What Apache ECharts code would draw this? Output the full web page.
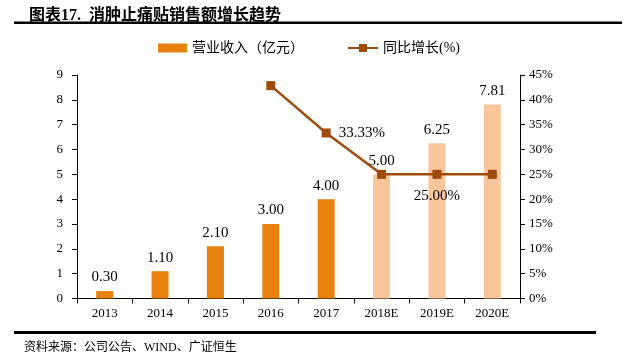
<!DOCTYPE html>
<html><head><meta charset="utf-8">
<script src="https://cdn.jsdelivr.net/npm/echarts@6/dist/echarts.min.js"></script>
<style>html,body{margin:0;padding:0;background:#fff}#c{width:640px;height:355px}</style>
</head><body><div id="c"></div>
<script>
const categories = ['2013','2014','2015','2016','2017','2018E','2019E','2020E'];
const revenue = [0.30, 1.10, 2.10, 3.00, 4.00, 5.00, 6.25, 7.81];
const growth = [null, null, null, 42.86, 33.33, 25.00, 25.00, 25.00];
const growthLabelShown = [false, false, false, false, true, false, true, false];
const leftTicks = [0,1,2,3,4,5,6,7,8,9];
const rightTicks = [0,5,10,15,20,25,30,35,40,45];
const titleText = '图表17.  消肿止痛贴销售额增长趋势';
const sourceText = '资料来源：公司公告、WIND、广证恒生';
const seriesNames = ['营业收入（亿元）', '同比增长(%)'];

const SERIF = '"Liberation Serif","Times New Roman",serif';
const MIX = '"Liberation Serif","Noto Sans CJK SC",serif';
const DARK = '#E8820E', LIGHT = '#F9C59B', LINE = '#9E4B0C';

const chart = echarts.init(document.getElementById('c'), null, {renderer:'canvas'});
chart.setOption({
  animation:false,
  textStyle:{fontFamily:SERIF},
  title:{text:titleText,left:24,top:3,textStyle:{fontFamily:MIX,fontSize:16,fontWeight:'bold',color:'#000'}},
  graphic:[
    {type:'rect',shape:{x:14,y:21.5,width:608,height:2.5},style:{fill:'#000'}},
    {type:'rect',shape:{x:14,y:331,width:582,height:3},style:{fill:'#000'}},
    {type:'text',left:24,top:342,style:{text:sourceText,font:'12px "Liberation Serif","Noto Sans CJK SC",serif',fill:'#000'}}
  ],
  legend:[
    {data:[{name:seriesNames[0],icon:'rect'}],left:153,top:36,itemWidth:29,itemHeight:9,itemGap:4,
     textStyle:{fontFamily:MIX,fontSize:14,color:'#000'}},
    {data:[{name:seriesNames[1]}],left:342,top:36,itemWidth:30,itemHeight:10,itemGap:4,
     textStyle:{fontFamily:MIX,fontSize:14,color:'#000'}}
  ],
  grid:{left:77,right:120,top:75,bottom:56.5},
  xAxis:{type:'category',data:categories,
    axisLine:{lineStyle:{color:'#000',width:1}},
    axisTick:{show:true,length:5,lineStyle:{color:'#000'}},
    axisLabel:{color:'#000',fontSize:13,fontFamily:SERIF,margin:9}},
  yAxis:[
    {type:'value',min:leftTicks[0],max:leftTicks[leftTicks.length-1],interval:1,
     axisLine:{show:true,lineStyle:{color:'#000'}},axisTick:{show:true,length:5,lineStyle:{color:'#000'}},
     splitLine:{show:false},axisLabel:{color:'#000',fontSize:13,fontFamily:SERIF,margin:14}},
    {type:'value',min:rightTicks[0],max:rightTicks[rightTicks.length-1],interval:5,
     axisLine:{show:true,lineStyle:{color:'#000'}},axisTick:{show:true,length:5,lineStyle:{color:'#000'}},
     splitLine:{show:false},axisLabel:{color:'#000',fontSize:13,fontFamily:SERIF,margin:9,formatter:'{value}%'}}
  ],
  series:[
    {name:seriesNames[0],type:'bar',barWidth:17,itemStyle:{color:DARK},
     data:revenue.map((v,i)=>({value:v,itemStyle:{color:categories[i].endsWith('E')?LIGHT:DARK}})),
     label:{show:true,position:'top',distance:6,color:'#000',fontSize:15,fontFamily:SERIF,formatter:p=>p.value.toFixed(2)}},
    {name:seriesNames[1],type:'line',yAxisIndex:1,symbol:'rect',symbolSize:9,
     itemStyle:{color:LINE},lineStyle:{color:LINE,width:2.5},
     data:growth.map((v,i)=>{
       if(v===null) return '-';
       const d={value:v};
       if(growthLabelShown[i]) d.label={show:true,position:i===4?'right':'bottom',distance:i===4?8:10};
       return d;}),
     label:{show:false,color:'#000',fontSize:15,fontFamily:SERIF,formatter:p=>p.value.toFixed(2)+'%'}}
  ]
});
</script></body></html>
